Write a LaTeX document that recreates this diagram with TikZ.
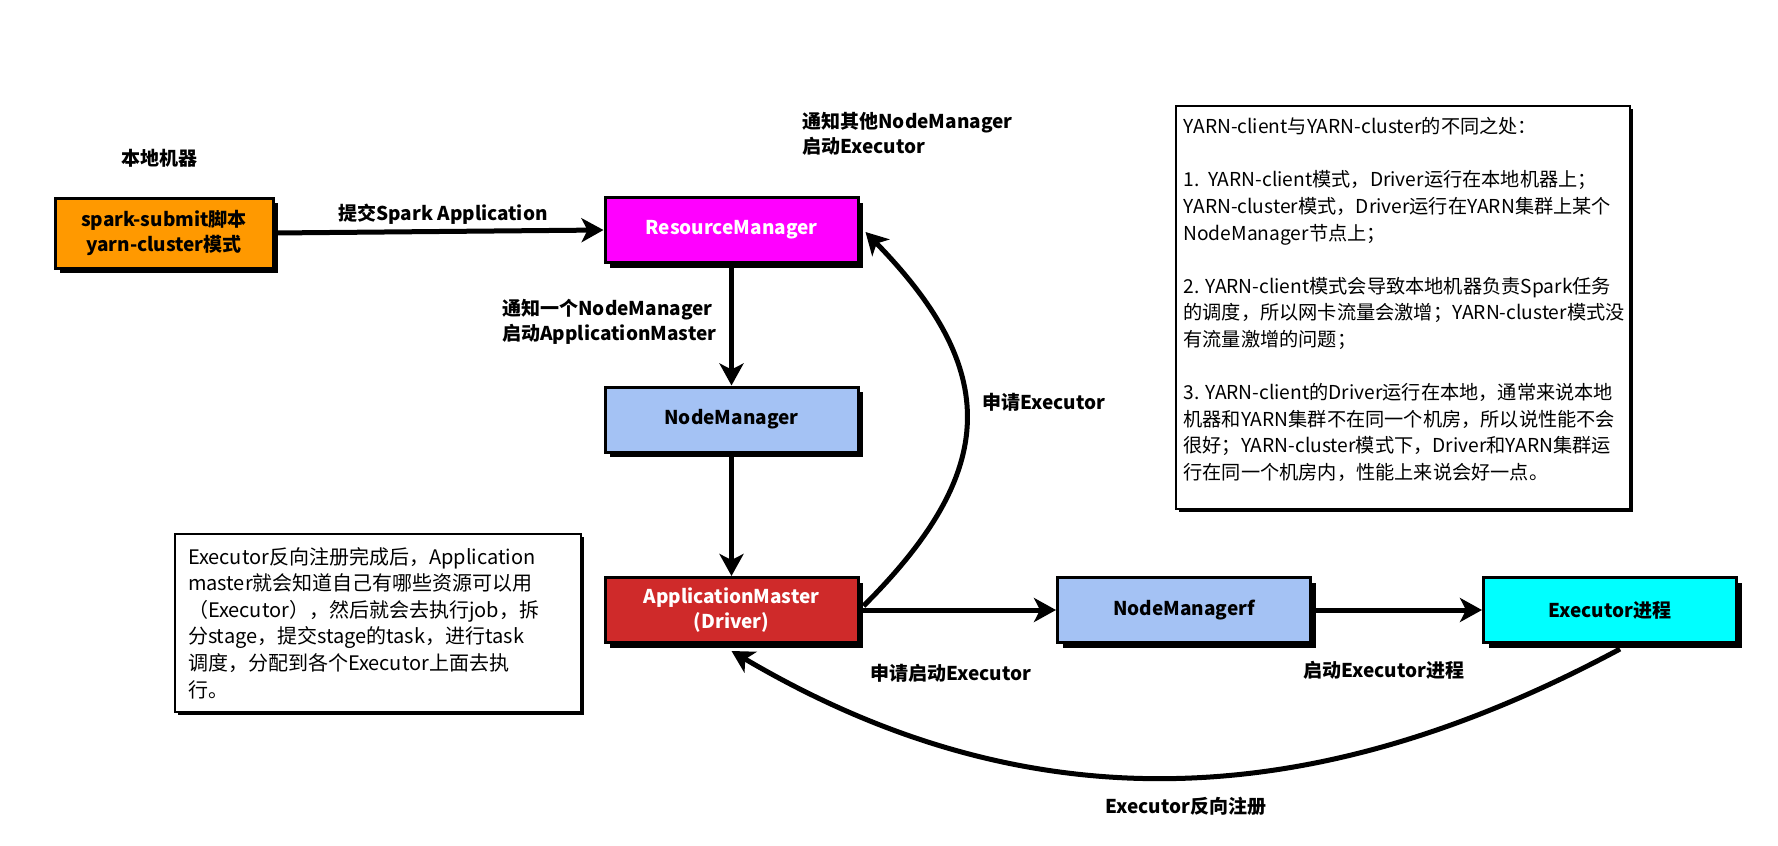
\documentclass[tikz,border=0pt]{standalone}
\usepackage{fontspec}
\setmainfont{Noto Sans CJK SC}
\usetikzlibrary{arrows.meta,shadows}
\definecolor{cOrange}{HTML}{FF9900}
\definecolor{cMagenta}{HTML}{FF00FF}
\definecolor{cBlue}{HTML}{A4C2F4}
\definecolor{cRed}{HTML}{CF2A2A}
\definecolor{cCyan}{HTML}{00FFFF}
\tikzset{
  box/.style={draw=black, line width=1.5pt, minimum width=126.5pt, minimum height=32.5pt,
    inner sep=0pt, align=center, font=\fontsize{9.5}{12.5}\selectfont\bfseries,
    drop shadow={shadow xshift=2.5pt, shadow yshift=-2.5pt, fill=black, opacity=1}},
  notebox/.style={draw=black, line width=1pt, fill=white,
    drop shadow={shadow xshift=1.5pt, shadow yshift=-1.5pt, fill=black, opacity=1}},
  notetext/.style={align=left, inner sep=0pt, font=\fontsize{10}{13.3}\selectfont},
  lbl/.style={inner sep=0pt, font=\fontsize{9.5}{12.5}\selectfont\bfseries, align=left},
  arr/.style={line width=2.5pt, -{Stealth[length=11pt, width=12pt, inset=3pt]}},
}
\begin{document}
\begin{tikzpicture}[x=0.5pt, y=-0.5pt]
\useasboundingbox[fill=white] (0,0) rectangle (1778,846);

% boxes
\node[box, fill=cOrange, minimum width=109pt, minimum height=35pt] (ss) at (164,233) {spark-submit脚本\\yarn-cluster模式};
\node[box, fill=cMagenta, text=white] (rm) at (731.5,230) {ResourceManager};
\node[box, fill=cBlue] (nm) at (731.5,419.5) {NodeManager};
\node[box, fill=cRed, text=white] (am) at (731.5,610) {ApplicationMaster\\(Driver)};
\node[box, fill=cBlue] (nmf) at (1184,610) {NodeManagerf};
\node[box, fill=cCyan] (ex) at (1610,610) {Executor进程};

% notes
\node[notebox, notetext, anchor=north west, minimum width=203pt, minimum height=89pt,
      text width=190pt, inner xsep=6.5pt] (leftnote) at (174,533)
{Executor反向注册完成后，Application\\
master就会知道自己有哪些资源可以用\\
（Executor），然后就会去执行job，拆\\
分stage，提交stage的task，进行task\\
调度，分配到各个Executor上面去执\\
行。};

\node[notebox, anchor=north west, minimum width=227pt, minimum height=201.5pt] (rightnote) at (1175,105) {};
\node[notetext, anchor=north west, font=\fontsize{9.6}{13.3}\selectfont] (righttext) at (1183,117)
{YARN-client与YARN-cluster的不同之处：\\[13.3pt]
1.\ \ YARN-client模式，Driver运行在本地机器上；\\
YARN-cluster模式，Driver运行在YARN集群上某个\\
NodeManager节点上；\\[13.3pt]
2. YARN-client模式会导致本地机器负责Spark任务\\
的调度，所以网卡流量会激增；YARN-cluster模式没\\
有流量激增的问题；\\[13.3pt]
3. YARN-client的Driver运行在本地，通常来说本地\\
机器和YARN集群不在同一个机房，所以说性能不会\\
很好；YARN-cluster模式下，Driver和YARN集群运\\
行在同一个机房内，性能上来说会好一点。};

% labels
\node[lbl] (local) at (159,158) {本地机器};
\node[lbl] (l1) at (443,214) {提交Spark Application};
\node[lbl, anchor=west] (l2) at (802,134) {通知其他NodeManager\\启动Executor};
\node[lbl, anchor=west] (l3) at (502,322) {通知一个NodeManager\\启动ApplicationMaster};
\node[lbl, anchor=west] (l4) at (982,402) {申请Executor};
\node[lbl, anchor=west] (l5) at (870,673) {申请启动Executor};
\node[lbl, anchor=west] (l6) at (1303,670) {启动Executor进程};
\node[lbl] (l7) at (1186,806) {Executor反向注册};

% connectors
\draw[arr] (ss.east) -- (rm.west);
\draw[arr] (rm.south) -- (nm.north);
\draw[arr] (nm.south) -- (am.north);
\draw[arr] (am.east) -- (nmf.west);
\draw[arr] (nmf.east) -- (ex.west);
\draw[arr] ([xshift=2pt,yshift=2pt]am.east) .. controls (1000,470) and (1000,370) .. ([xshift=3pt,yshift=-1pt]rm.east);
\draw[arr] ([xshift=5pt,yshift=-2.5pt]ex.south) .. controls (1320,810) and (1035,830) .. ([yshift=-3.5pt]am.south);
\end{tikzpicture}
\end{document}
